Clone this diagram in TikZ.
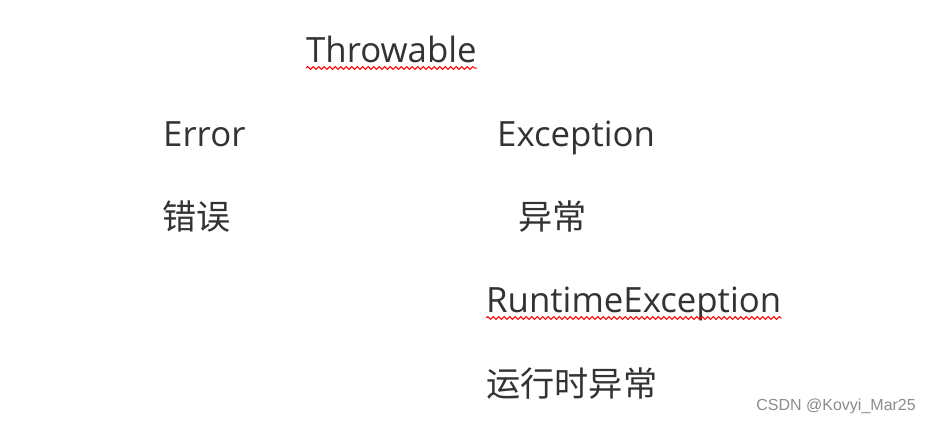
\documentclass[tikz,border=0pt]{standalone}
\usepackage{fontspec}
\setmainfont{Open Sans}
\newfontfamily\cjk{Noto Sans CJK SC}
\newfontfamily\marksans{Liberation Sans}
\usetikzlibrary{decorations.pathmorphing}
\definecolor{txtgray}{HTML}{333333}
\tikzset{
  word/.style={anchor=base west, inner sep=0pt, text=txtgray, font=\fontsize{34.8}{40}\selectfont},
  hanzi/.style={word, font=\cjk\fontsize{34.2}{40}\selectfont},
  spell/.style={draw=red, line width=1pt, decorate, decoration={snake, amplitude=1.5pt, segment length=5.5pt}}
}
\begin{document}
\begin{tikzpicture}[x=1pt, y=-1pt]
       \useasboundingbox[fill=white] (0,0) rectangle (932,423);
       \node[word] (throwable) at (306,62) {Throwable};
       \node[word] (error) at (163,146) {Error};
       \node[word] (exception) at (497,146) {Exception};
       \node[hanzi] (cuowu) at (162,229) {错误};
       \node[hanzi] (yichang) at (518,229) {异常};
       \node[word] (runtime) at (486,312) {RuntimeException};
       \node[hanzi] (yunxing) at (486,396) {运行时异常};
       \draw[spell] ([yshift=-6pt]throwable.base west) -- ([yshift=-6pt]throwable.base east);
       \draw[spell] ([yshift=-6pt]runtime.base west) -- ([yshift=-6pt]runtime.base east);
       \node[anchor=base east, inner sep=0pt, text=black!45, font=\marksans\fontsize{16}{18}\selectfont] (mark) at (916,410) {CSDN @Kovyi\_Mar25};
\end{tikzpicture}
\end{document}
